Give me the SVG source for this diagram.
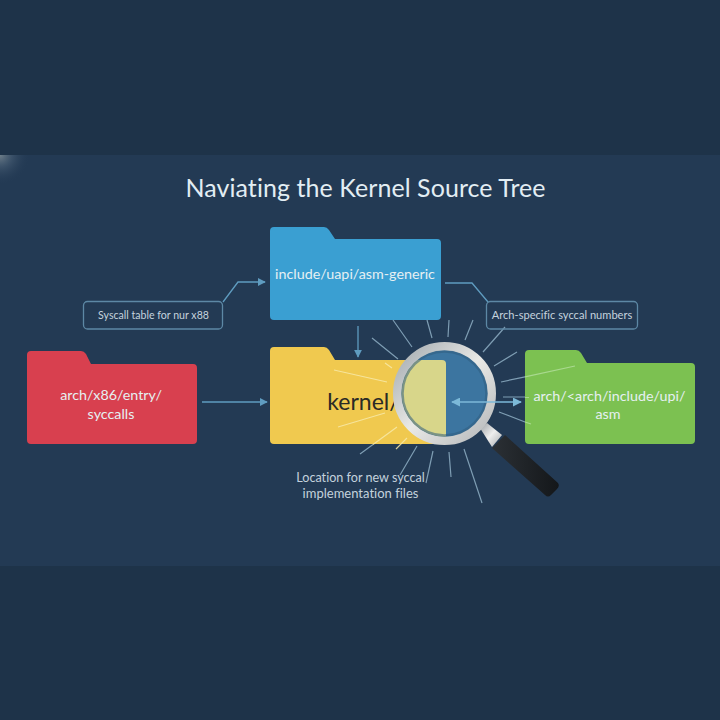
<svg xmlns="http://www.w3.org/2000/svg" width="720" height="720" viewBox="0 0 720 720">
<style>
text{font-family:"Lato","Open Sans","Liberation Sans",sans-serif;text-anchor:middle;font-variant-ligatures:none}
.lbl{fill:#e6f0f2;font-size:14.300px}
.cap{fill:#c5d3de;font-size:10.600px}
.note{fill:#c3d2dd;font-size:12.600px}
.box{fill:none;stroke:#5d88a5;stroke-width:1.3}
.con{fill:none;stroke:#5f9cc0;stroke-width:1.3}
.ray{stroke:#7e9db3;stroke-width:1.2;fill:none}
.rayl{stroke:#f7e9a8;stroke-width:1.2;fill:none;opacity:.85}
.rayg{stroke:#a9d98f;stroke-width:1.2;fill:none}
</style>
<defs>
<marker id="ah" viewBox="0 0 10 10" refX="9" refY="5" markerWidth="8" markerHeight="8" orient="auto-start-reverse" markerUnits="userSpaceOnUse"><path d="M0 0L10 5L0 10Z" fill="#5f9cc0"/></marker>
<marker id="ahl" viewBox="0 0 10 10" refX="9" refY="5" markerWidth="9" markerHeight="9" orient="auto-start-reverse" markerUnits="userSpaceOnUse"><path d="M0 0L10 5L0 10Z" fill="#7cb9d8"/></marker>
<radialGradient id="glow" cx="0" cy="0" r="1"><stop offset="0" stop-color="#6f7f8a"/><stop offset=".4" stop-color="#4a6076" stop-opacity=".6"/><stop offset="1" stop-color="#233a54" stop-opacity="0"/></radialGradient>
<linearGradient id="ring" x1="0" y1="0" x2="1" y2="1"><stop offset="0" stop-color="#a3aaaf"/><stop offset=".5" stop-color="#e9e9e6"/><stop offset="1" stop-color="#b4b7b9"/></linearGradient>
<linearGradient id="handle" x1="0" y1="0" x2="1" y2="0"><stop offset="0" stop-color="#2b3035"/><stop offset="1" stop-color="#14171a"/></linearGradient>
<linearGradient id="collar" x1="0" y1="0" x2="1" y2="1"><stop offset="0" stop-color="#9a9fa3"/><stop offset=".5" stop-color="#eeeeee"/><stop offset="1" stop-color="#a6aaad"/></linearGradient>
<clipPath id="lens"><circle cx="444.500" cy="393.500" r="43"/></clipPath>
</defs>
<rect width="720" height="720" fill="#1e3349"/>
<rect y="155" width="720" height="411" fill="#233a54"/>
<rect y="155" width="30" height="30" fill="url(#glow)"/>
<text x="365.500" y="197" fill="#e2edf3" style="font-size:25px" textLength="360">Naviating the Kernel Source Tree</text>

<g id="connectors">
<path class="con" d="M223 302L238 282H265" marker-end="url(#ah)"/>
<path class="con" d="M445 283H472L488 302"/>
<path class="con" d="M358 326V357" marker-end="url(#ah)"/>
<path class="con" d="M202 402H267" marker-end="url(#ah)"/>
</g>

<g id="node-blue"><path d="M270 231a4 4 0 0 1 4-4h50q3 0 5 3l6 9h102a4 4 0 0 1 4 4v73a4 4 0 0 1-4 4H274a4 4 0 0 1-4-4Z" fill="#3a9fd2"/>
<text class="lbl" x="355" y="279">include/uapi/asm-generic</text></g>
<g id="node-red"><path d="M27 355a4 4 0 0 1 4-4h50q3 0 5 3l5 10h102a4 4 0 0 1 4 4v72a4 4 0 0 1-4 4H31a4 4 0 0 1-4-4Z" fill="#d8404f"/>
<text class="lbl" x="111" y="400">arch/x86/entry/</text><text class="lbl" x="111" y="419">syccalls</text></g>
<g id="node-yellow"><path d="M270 351a4 4 0 0 1 4-4h50q3 0 5 3l6 10h107a4 4 0 0 1 4 4v76a4 4 0 0 1-4 4H274a4 4 0 0 1-4-4Z" fill="#f0c94f"/>
<text x="363.500" y="410" fill="#2a2a26" style="font-size:23px">kernel/</text></g>
<g id="node-green"><path d="M525 354a4 4 0 0 1 4-4h47q3 0 5 3l6 10h104a4 4 0 0 1 4 4v73a4 4 0 0 1-4 4H529a4 4 0 0 1-4-4Z" fill="#7cc151"/>
<text class="lbl" x="609.500" y="401">arch/&lt;arch/include/upi/</text><text class="lbl" x="608" y="419">asm</text></g>

<g id="rays">
<path class="ray" d="M393 320L412 347M427 320L432 338M449 320L448 337M473 320L465 340M505 327L483 352M517 352L494 366M501 382L525 376.800M503 397H525M499 412L525 422M464 449L482 503M449 452L451 477M433 451L426 483M417 446L400 475M360 454L373 444.500M372 338L398 359"/>
<path class="rayl" d="M385 413L338 427M387 382L334 370M392 368L385 363M407 438L396 449M397 427L373 444.500"/>
<path class="rayg" d="M525 376.800L575 366M525 397.500H529M525 422L531 424"/>
</g>

<g id="note-left"><rect class="box" x="83.500" y="301.500" width="139" height="27.500" rx="4"/><text class="cap" x="153.500" y="319">Syscall table for nur x88</text></g>
<g id="note-right"><rect class="box" x="486.500" y="301.500" width="151" height="27.500" rx="4"/><text class="cap" x="562" y="319" style="font-size:11.100px">Arch-specific syccal numbers</text></g>
<g id="note-bottom"><text class="note" x="360.500" y="482">Location for new syccal</text><text class="note" x="360.500" y="498" style="font-size:13px">implementation files</text></g>

<g id="magnifier">
<path d="M505 435L558 483Q560 486 557 489L551 495Q548 498 545 495L492 448Z" fill="url(#handle)"/>
<path d="M487 423L502 435L492 447L480 428Z" fill="url(#collar)"/>
<circle cx="444.500" cy="393.500" r="47" fill="none" stroke="url(#ring)" stroke-width="9"/>
<g clip-path="url(#lens)">
<rect x="400" y="349" width="90" height="89" fill="#3c75a0"/>
<path d="M400 360H442a4 4 0 0 1 4 4V438H400Z" fill="#d8d68a"/>
</g>
<circle cx="444.500" cy="393.500" r="42" fill="none" stroke="#2f5d80" stroke-width="2.500" opacity=".55"/>
</g>
<path class="con" d="M452 402H521" style="stroke:#7cb9d8" marker-start="url(#ahl)" marker-end="url(#ahl)"/>
</svg>
